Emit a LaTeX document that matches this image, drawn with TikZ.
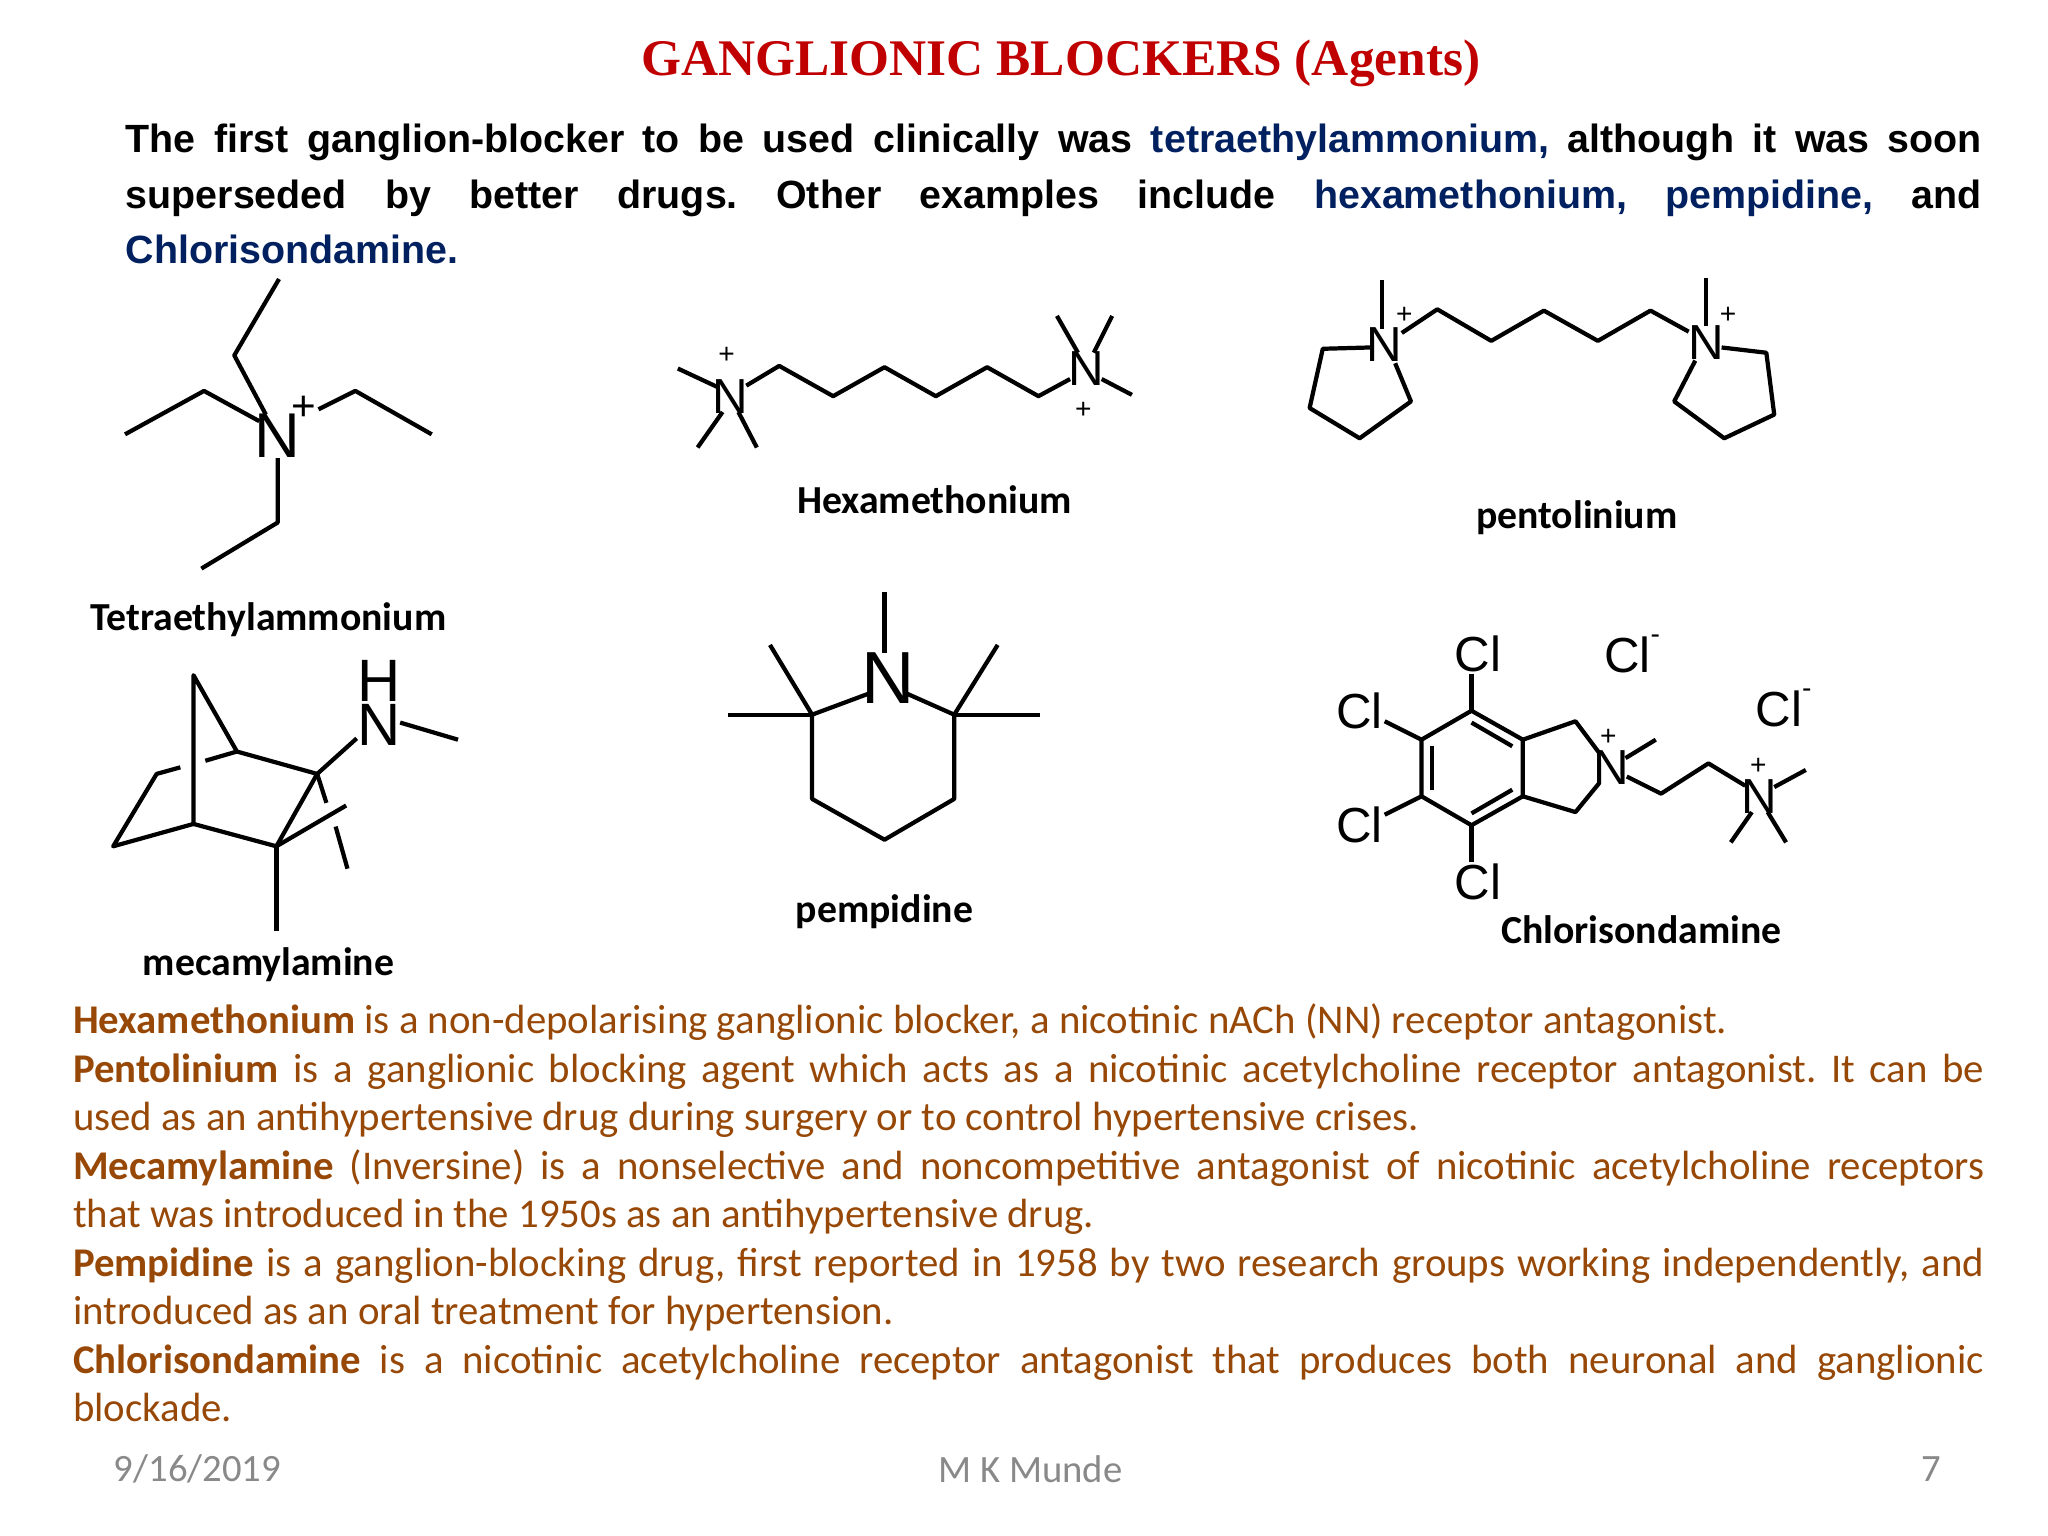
\documentclass[tikz,border=0pt]{standalone}
\usepackage{fontspec}
\setmainfont{Carlito}
\newfontfamily\headfont{Liberation Sans}
\newfontfamily\titlefont{Liberation Serif}
\newfontfamily\atomfont{Liberation Sans}
\usetikzlibrary{positioning}
\definecolor{titlered}{RGB}{192,0,0}
\definecolor{drugblue}{RGB}{0,32,96}
\definecolor{bodybrown}{RGB}{151,72,6}
\definecolor{footgray}{RGB}{137,137,137}
\begin{document}
\frenchspacing
\begin{tikzpicture}[x=0.01316cm, y=-0.01316cm,
    bond/.style={line width=1.2pt, line join=round},
    atom/.style={font=\atomfont\fontsize{14}{14}\selectfont, inner sep=0pt},
    charge/.style={font=\atomfont\fontsize{8}{8}\selectfont, inner sep=0pt},
    molname/.style={font=\bfseries\fontsize{11.3}{11.3}\selectfont},
    foot/.style={font=\fontsize{11}{11}\selectfont, text=footgray}]
  \useasboundingbox (0,0) rectangle (1556,1167);
  % title and heading
  \node (title) at (806,48) {\titlefont\bfseries\fontsize{14.6}{14.6}\selectfont\color{titlered}GANGLIONIC BLOCKERS (Agents)};
  \node[anchor=north west, text width=18.55cm, align=justify, inner sep=0pt] (intro) at (95,94)
    {\headfont\bfseries\fontsize{11.2}{15.7}\selectfont\hyphenpenalty=10000 The first ganglion-blocker to be used clinically was \textcolor{drugblue}{tetraethylammonium,} although it was soon\linebreak superseded by better drugs. Other examples include \textcolor{drugblue}{hexamethonium,} \textcolor{drugblue}{pempidine,} and\linebreak \textcolor{drugblue}{Chlorisondamine.}\par};

  % tetraethylammonium
  \node[atom, font=\atomfont\fontsize{18}{18}\selectfont] (teaN) at (211,331) {N};
  \node[charge, font=\atomfont\fontsize{12}{12}\selectfont] at (231,310) {+};
  \draw[bond] (202,315) -- (178,270) -- (212,212);
  \draw[bond] (197,320) -- (155,297) -- (95,330);
  \draw[bond] (242,311) -- (270,297) -- (328,330);
  \draw[bond] (211,348) -- (211,397) -- (153,432);
  \node[molname] (teaL) at (204,471) {Tetraethylammonium};

  % hexamethonium
  \node[atom] (hexN1) at (555,301) {N};
  \node[charge] at (552,270) {+};
  \draw[bond] (545,294) -- (515,280);
  \draw[bond] (549,313) -- (530,340);
  \draw[bond] (561,313) -- (575,340);
  \draw[bond] (567,293) -- (592,278) -- (633,301) -- (672,279) -- (711,301) -- (750,279) -- (789,301) -- (813,288);
  \node[atom] (hexN2) at (825,280) {N};
  \node[charge] at (823,312) {+};
  \draw[bond] (819,268) -- (803,240);
  \draw[bond] (831,268) -- (845,240);
  \draw[bond] (837,288) -- (860,300);
  \node[molname] (hexL) at (710,380) {Hexamethonium};

  % pentolinium
  \node[atom] (penN1) at (1052,262) {N};
  \node[charge] at (1067,240) {+};
  \draw[bond] (1050,250) -- (1050,213);
  \draw[bond] (1065,253) -- (1092,235) -- (1133,259) -- (1173,236) -- (1214,259) -- (1254,236) -- (1283,252);
  \draw[bond] (1041,264) -- (1005,265) -- (995,310) -- (1033,333) -- (1072,305) -- (1060,276);
  \node[atom] (penN2) at (1296,260) {N};
  \node[charge] at (1313,240) {+};
  \draw[bond] (1296,248) -- (1296,211);
  \draw[bond] (1308,264) -- (1342,268) -- (1348,315) -- (1310,333) -- (1272,305) -- (1288,274);
  \node[molname] (penL) at (1198,393) {pentolinium};

  % mecamylamine
  \draw[bond] (147,513) -- (147,626) -- (210,643) -- (241,588) -- (180,571) -- cycle;
  \draw[bond] (147,626) -- (86,643) -- (119,588) -- (137,583);
  \draw[bond] (156,578) -- (180,571);
  \draw[bond] (210,643) -- (263,612);
  \draw[bond] (210,643) -- (210,707);
  \draw[bond] (241,588) -- (248,610);
  \draw[bond] (255,628) -- (264,660);
  \draw[bond] (241,588) -- (271,561);
  \node[atom, font=\atomfont\fontsize{17}{17}\selectfont] (mecN) at (288,551) {N};
  \node[atom, font=\atomfont\fontsize{17}{17}\selectfont] (mecH) at (288,517) {H};
  \draw[bond] (304,549) -- (348,562);
  \node[molname] (mecL) at (204,733) {mecamylamine};

  % pempidine
  \node[atom, font=\atomfont\fontsize{21}{21}\selectfont] (pemN) at (675,515) {N};
  \draw[bond] (672,496) -- (672,450);
  \draw[bond] (689,527) -- (725,543) -- (725,607) -- (672,638) -- (617,607) -- (617,543) -- (660,527);
  \draw[bond] (617,543) -- (553,543);
  \draw[bond] (617,543) -- (585,490);
  \draw[bond] (725,543) -- (790,543);
  \draw[bond] (725,543) -- (758,490);
  \node[molname] (pemL) at (672,693) {pempidine};

  % chlorisondamine
  \draw[bond] (1118,540) -- (1157,562) -- (1157,605) -- (1118,627) -- (1080,605) -- (1080,562) -- cycle;
  \draw[bond] (1118,549) -- (1149,567);
  \draw[bond] (1149,600) -- (1118,618);
  \draw[bond] (1088,600) -- (1088,567);
  \draw[bond] (1157,562) -- (1197,548) -- (1215,572);
  \draw[bond] (1157,605) -- (1197,617) -- (1215,595);
  \node[atom] (chlN1) at (1224,583) {N};
  \node[charge] at (1222,560) {+};
  \draw[bond] (1235,576) -- (1258,562);
  \draw[bond] (1236,590) -- (1262,603) -- (1298,580) -- (1326,597);
  \node[atom] (chlN2) at (1337,605) {N};
  \node[charge] at (1336,582) {+};
  \draw[bond] (1348,598) -- (1372,585);
  \draw[bond] (1331,617) -- (1315,640);
  \draw[bond] (1343,617) -- (1357,640);
  \node[atom] (cl1) at (1123,497) {Cl};
  \draw[bond] (1118,512) -- (1118,540);
  \node[atom] (cl2) at (1033,540) {Cl};
  \draw[bond] (1052,548) -- (1080,562);
  \node[atom] (cl3) at (1033,627) {Cl};
  \draw[bond] (1052,619) -- (1080,605);
  \node[atom] (cl4) at (1123,670) {Cl};
  \draw[bond] (1118,627) -- (1118,655);
  \node[atom] (clm1) at (1240,497) {Cl\raisebox{1.1ex}{\fontsize{8}{8}\selectfont -}};
  \node[atom] (clm2) at (1355,538) {Cl\raisebox{1.1ex}{\fontsize{8}{8}\selectfont -}};
  \node[molname] (chlL) at (1247,706) {Chlorisondamine};

  % description
  \node[anchor=north west, text width=19.1cm, align=justify, inner sep=0pt, text=bodybrown] (desc) at (55,762)
    {\fontsize{11.6}{13.8}\selectfont\hyphenpenalty=10000
     \textbf{Hexamethonium} is a non-depolarising ganglionic blocker, a nicotinic nACh (NN) receptor antagonist.\\
     \textbf{Pentolinium} is a ganglionic blocking agent which acts as a nicotinic acetylcholine receptor antagonist. It can be\linebreak used as an antihypertensive drug during surgery or to control hypertensive crises.\\
     \textbf{Mecamylamine} (Inversine) is a nonselective and noncompetitive antagonist of nicotinic acetylcholine receptors\linebreak that was introduced in the 1950s as an antihypertensive drug.\\
     \textbf{Pempidine} is a ganglion-blocking drug, first reported in 1958 by two research groups working independently, and introduced as an oral treatment for hypertension.\\
     \textbf{Chlorisondamine} is a nicotinic acetylcholine receptor antagonist that produces both neuronal and ganglionic blockade.\par};

  % footer
  \node[foot] (date) at (150,1116) {9/16/2019};
  \node[foot] (author) at (783,1116) {M K Munde};
  \node[foot] (page) at (1467,1116) {7};
\end{tikzpicture}
\end{document}
